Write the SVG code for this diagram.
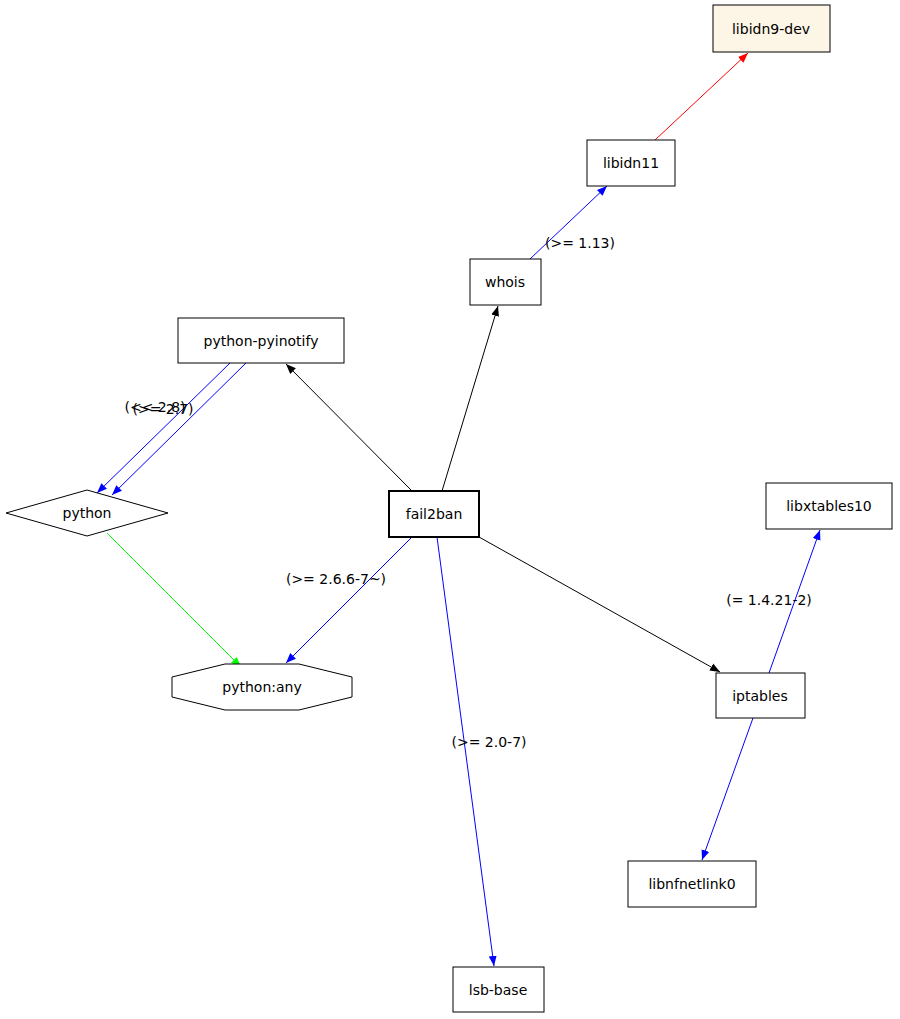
<svg xmlns="http://www.w3.org/2000/svg" width="900" height="1019" viewBox="0 0 900 1019">
<style>
text{font-family:"DejaVu Sans",sans-serif;font-size:14px;text-anchor:middle;dominant-baseline:central;fill:#000}
.n{fill:#fff;stroke:#000;stroke-width:1}
.e{fill:none;stroke-width:1}
</style>
<defs>
<marker id="mk" viewBox="0 0 10 10" refX="10" refY="5" markerWidth="10" markerHeight="10" markerUnits="userSpaceOnUse" orient="auto"><path d="M0,1 L10,5 L0,9z" fill="#000"/></marker>
<marker id="mb" viewBox="0 0 10 10" refX="10" refY="5" markerWidth="10" markerHeight="10" markerUnits="userSpaceOnUse" orient="auto"><path d="M0,1 L10,5 L0,9z" fill="#00f"/></marker>
<marker id="mr" viewBox="0 0 10 10" refX="10" refY="5" markerWidth="10" markerHeight="10" markerUnits="userSpaceOnUse" orient="auto"><path d="M0,1 L10,5 L0,9z" fill="#f00"/></marker>
<marker id="mg" viewBox="0 0 10 10" refX="10" refY="5" markerWidth="10" markerHeight="10" markerUnits="userSpaceOnUse" orient="auto"><path d="M0,1 L10,5 L0,9z" fill="#0f0"/></marker>
</defs>
<rect width="900" height="1019" fill="#fff"/>
<g id="connectors">
<line class="e" x1="655" y1="140" x2="748" y2="53" stroke="#f00" marker-end="url(#mr)"/>
<line class="e" x1="530" y1="259" x2="607" y2="186" stroke="#00f" marker-end="url(#mb)"/>
<text x="580" y="243">(&gt;= 1.13)</text>
<line class="e" x1="442" y1="491" x2="498" y2="306" stroke="#000" marker-end="url(#mk)"/>
<line class="e" x1="412" y1="491" x2="286" y2="364" stroke="#000" marker-end="url(#mk)"/>
<line class="e" x1="230" y1="363" x2="97" y2="493" stroke="#00f" marker-end="url(#mb)"/>
<line class="e" x1="246" y1="363" x2="112" y2="495" stroke="#00f" marker-end="url(#mb)"/>
<text x="155" y="407">(&lt;&lt; 2.8)</text>
<text x="163" y="409">(&gt;= 2.7)</text>
<line class="e" x1="107" y1="533" x2="241" y2="667" stroke="#0f0" marker-end="url(#mg)"/>
<line class="e" x1="412" y1="537" x2="286" y2="663" stroke="#00f" marker-end="url(#mb)"/>
<text x="336" y="579">(&gt;= 2.6.6-7~)</text>
<line class="e" x1="437" y1="537" x2="494" y2="966" stroke="#00f" marker-end="url(#mb)"/>
<text x="489" y="742">(&gt;= 2.0-7)</text>
<line class="e" x1="479" y1="537" x2="720" y2="672" stroke="#000" marker-end="url(#mk)"/>
<line class="e" x1="769" y1="673" x2="820" y2="530" stroke="#00f" marker-end="url(#mb)"/>
<text x="769" y="600">(= 1.4.21-2)</text>
<line class="e" x1="753" y1="718" x2="702" y2="860" stroke="#00f" marker-end="url(#mb)"/>
</g>
<g id="libidn9-dev"><rect x="713" y="5" width="117" height="47" fill="#fdf5e6" stroke="#000"/><text x="771" y="29">libidn9-dev</text></g>
<g id="libidn11"><rect class="n" x="587" y="140" width="88" height="46"/><text x="631" y="163">libidn11</text></g>
<g id="whois"><rect class="n" x="470" y="259" width="71" height="46"/><text x="505" y="282">whois</text></g>
<g id="python-pyinotify"><rect class="n" x="178" y="318" width="166" height="45"/><text x="261" y="341">python-pyinotify</text></g>
<g id="fail2ban"><rect x="389" y="491" width="90" height="46" fill="#fff" stroke="#000" stroke-width="2"/><text x="434" y="514">fail2ban</text></g>
<g id="python"><polygon class="n" points="87,490 168,513 87,536 6,513"/><text x="87" y="513">python</text></g>
<g id="python-any"><polygon class="n" points="225,664 299,664 352,677 352,697 299,710 225,710 172,697 172,677"/><text x="262" y="687">python:any</text></g>
<g id="libxtables10"><rect class="n" x="766" y="483" width="126" height="46"/><text x="829" y="506">libxtables10</text></g>
<g id="iptables"><rect class="n" x="716" y="673" width="89" height="45"/><text x="760" y="696">iptables</text></g>
<g id="libnfnetlink0"><rect class="n" x="628" y="861" width="128" height="46"/><text x="692" y="884">libnfnetlink0</text></g>
<g id="lsb-base"><rect class="n" x="453" y="967" width="91" height="45"/><text x="498" y="990">lsb-base</text></g>
</svg>
